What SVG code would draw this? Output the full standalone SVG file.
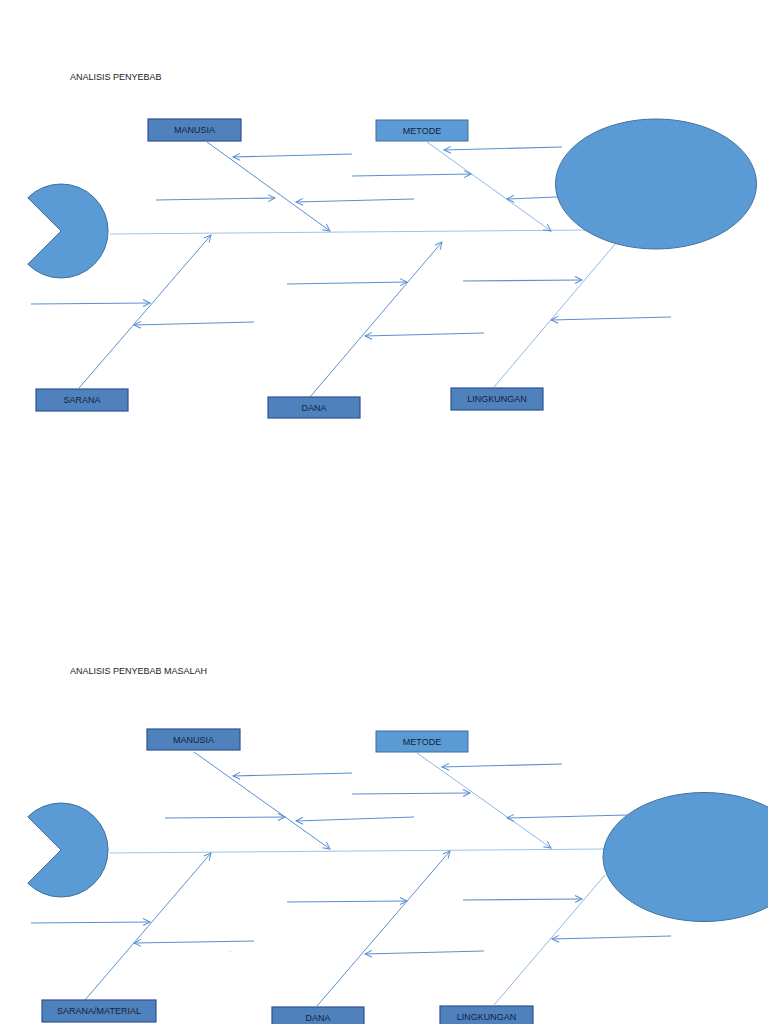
<svg xmlns="http://www.w3.org/2000/svg" width="768" height="1024" viewBox="0 0 768 1024">
<style>
.bg{fill:#ffffff}
.title{font-family:"Liberation Sans",Arial,sans-serif;font-size:9px;fill:#1a1a1a}
.lbl{font-family:"Liberation Sans",Arial,sans-serif;font-size:9px;fill:#15213a;text-anchor:middle}
.boxd{fill:#4F81BD;stroke:#2F528F;stroke-width:1.2}
.boxl{fill:#5B9BD5;stroke:#41719C;stroke-width:1}
.shape{fill:#5B9BD5;stroke:#41719C;stroke-width:1}
.spine{stroke:#9DC3E6;stroke-width:1;fill:none}
.bone{stroke:#5B8FD0;stroke-width:1;fill:none}
.bonel{stroke:#8DB8E8;stroke-width:1;fill:none}
.arr{stroke:#5B8FD0;stroke-width:1.1;fill:none}
</style>
<defs>
<marker id="ah" markerUnits="userSpaceOnUse" markerWidth="10" markerHeight="10" refX="8" refY="4" orient="auto">
<path d="M1,0.5 L8,4 L1,7.5" fill="none" stroke="#5B8FD0" stroke-width="1"/>
</marker>
</defs>
<rect class="bg" x="0" y="0" width="768" height="1024"/>

<!-- ===== Top diagram ===== -->
<g id="title1"><text class="title" x="70" y="80">ANALISIS PENYEBAB</text></g>

<g id="connectors1">
<line class="spine" x1="110" y1="234" x2="590" y2="230"/>
<line class="bone" x1="207" y1="142" x2="330" y2="231" marker-end="url(#ah)"/>
<line class="bonel" x1="427" y1="142" x2="551" y2="231" marker-end="url(#ah)"/>
<line class="bone" x1="79" y1="388" x2="211" y2="235" marker-end="url(#ah)"/>
<line class="bone" x1="310" y1="397" x2="442" y2="242" marker-end="url(#ah)"/>
<line class="bonel" x1="494" y1="387" x2="616" y2="243"/>
<line class="arr" x1="352" y1="154" x2="233" y2="157" marker-end="url(#ah)"/>
<line class="arr" x1="156" y1="200" x2="275" y2="198" marker-end="url(#ah)"/>
<line class="arr" x1="414" y1="199" x2="296" y2="202" marker-end="url(#ah)"/>
<line class="arr" x1="352" y1="176" x2="471" y2="174" marker-end="url(#ah)"/>
<line class="arr" x1="562" y1="147" x2="444" y2="150" marker-end="url(#ah)"/>
<line class="arr" x1="580" y1="196" x2="507" y2="199" marker-end="url(#ah)"/>
<line class="arr" x1="31" y1="304" x2="150" y2="303" marker-end="url(#ah)"/>
<line class="arr" x1="254" y1="322" x2="134" y2="325" marker-end="url(#ah)"/>
<line class="arr" x1="287" y1="284" x2="407" y2="282" marker-end="url(#ah)"/>
<line class="arr" x1="484" y1="333" x2="365" y2="336" marker-end="url(#ah)"/>
<line class="arr" x1="463" y1="281" x2="582" y2="280" marker-end="url(#ah)"/>
<line class="arr" x1="671" y1="317" x2="551" y2="320" marker-end="url(#ah)"/>
</g>

<g id="tail1"><path class="shape" d="M61,231 L27.8,197.8 A47,47 0 1,1 27.8,264.2 Z"/></g>
<g id="head1"><ellipse class="shape" cx="656" cy="184" rx="100.5" ry="65"/></g>

<g id="manusia1"><rect class="boxd" x="148" y="119" width="93" height="22"/><text class="lbl" x="194.5" y="133">MANUSIA</text></g>
<g id="metode1"><rect class="boxl" x="376" y="120" width="92" height="21"/><text class="lbl" x="422" y="133.5">METODE</text></g>
<g id="sarana1"><rect class="boxd" x="36" y="389" width="92" height="22"/><text class="lbl" x="82" y="403">SARANA</text></g>
<g id="dana1"><rect class="boxd" x="268" y="397" width="92" height="21"/><text class="lbl" x="314" y="410.5">DANA</text></g>
<g id="lingkungan1"><rect class="boxd" x="451" y="388" width="92" height="22"/><text class="lbl" x="497" y="402">LINGKUNGAN</text></g>

<!-- ===== Bottom diagram ===== -->
<g id="title2"><text class="title" x="70" y="674">ANALISIS PENYEBAB MASALAH</text></g>

<g id="connectors2">
<line class="spine" x1="110" y1="853" x2="606" y2="849"/>
<line class="bone" x1="194" y1="752" x2="330" y2="849" marker-end="url(#ah)"/>
<line class="bonel" x1="417" y1="753" x2="551" y2="848" marker-end="url(#ah)"/>
<line class="bone" x1="85" y1="1000" x2="211" y2="853" marker-end="url(#ah)"/>
<line class="bone" x1="317" y1="1006" x2="450" y2="851" marker-end="url(#ah)"/>
<line class="bonel" x1="494" y1="1005" x2="605" y2="875"/>
<line class="arr" x1="352" y1="773" x2="233" y2="776" marker-end="url(#ah)"/>
<line class="arr" x1="165" y1="818" x2="285" y2="817" marker-end="url(#ah)"/>
<line class="arr" x1="414" y1="817" x2="296" y2="821" marker-end="url(#ah)"/>
<line class="arr" x1="352" y1="794" x2="470" y2="793" marker-end="url(#ah)"/>
<line class="arr" x1="562" y1="764" x2="442" y2="767" marker-end="url(#ah)"/>
<line class="arr" x1="627" y1="815" x2="507" y2="818" marker-end="url(#ah)"/>
<line class="arr" x1="31" y1="923" x2="150" y2="922" marker-end="url(#ah)"/>
<line class="arr" x1="254" y1="941" x2="134" y2="943" marker-end="url(#ah)"/>
<line class="arr" x1="287" y1="902" x2="407" y2="901" marker-end="url(#ah)"/>
<line class="arr" x1="484" y1="951" x2="365" y2="954" marker-end="url(#ah)"/>
<line class="arr" x1="463" y1="900" x2="582" y2="899" marker-end="url(#ah)"/>
<line class="arr" x1="671" y1="936" x2="552" y2="939" marker-end="url(#ah)"/>
</g>
<text class="title" x="229.5" y="952" style="font-size:5px">.</text>

<g id="tail2"><path class="shape" d="M61,850 L27.8,816.8 A47,47 0 1,1 27.8,883.2 Z"/></g>
<g id="head2"><ellipse class="shape" cx="704" cy="857" rx="101" ry="64.5"/></g>

<g id="manusia2"><rect class="boxd" x="147" y="729" width="93" height="21"/><text class="lbl" x="193.5" y="742.5">MANUSIA</text></g>
<g id="metode2"><rect class="boxl" x="376" y="731" width="92" height="21"/><text class="lbl" x="422" y="744.5">METODE</text></g>
<g id="sarana2"><rect class="boxd" x="42" y="1000" width="114" height="22"/><text class="lbl" x="99" y="1014">SARANA/MATERIAL</text></g>
<g id="dana2"><rect class="boxd" x="272" y="1007" width="92" height="22"/><text class="lbl" x="318" y="1021">DANA</text></g>
<g id="lingkungan2"><rect class="boxd" x="440" y="1006" width="93" height="22"/><text class="lbl" x="486.5" y="1020">LINGKUNGAN</text></g>
</svg>
